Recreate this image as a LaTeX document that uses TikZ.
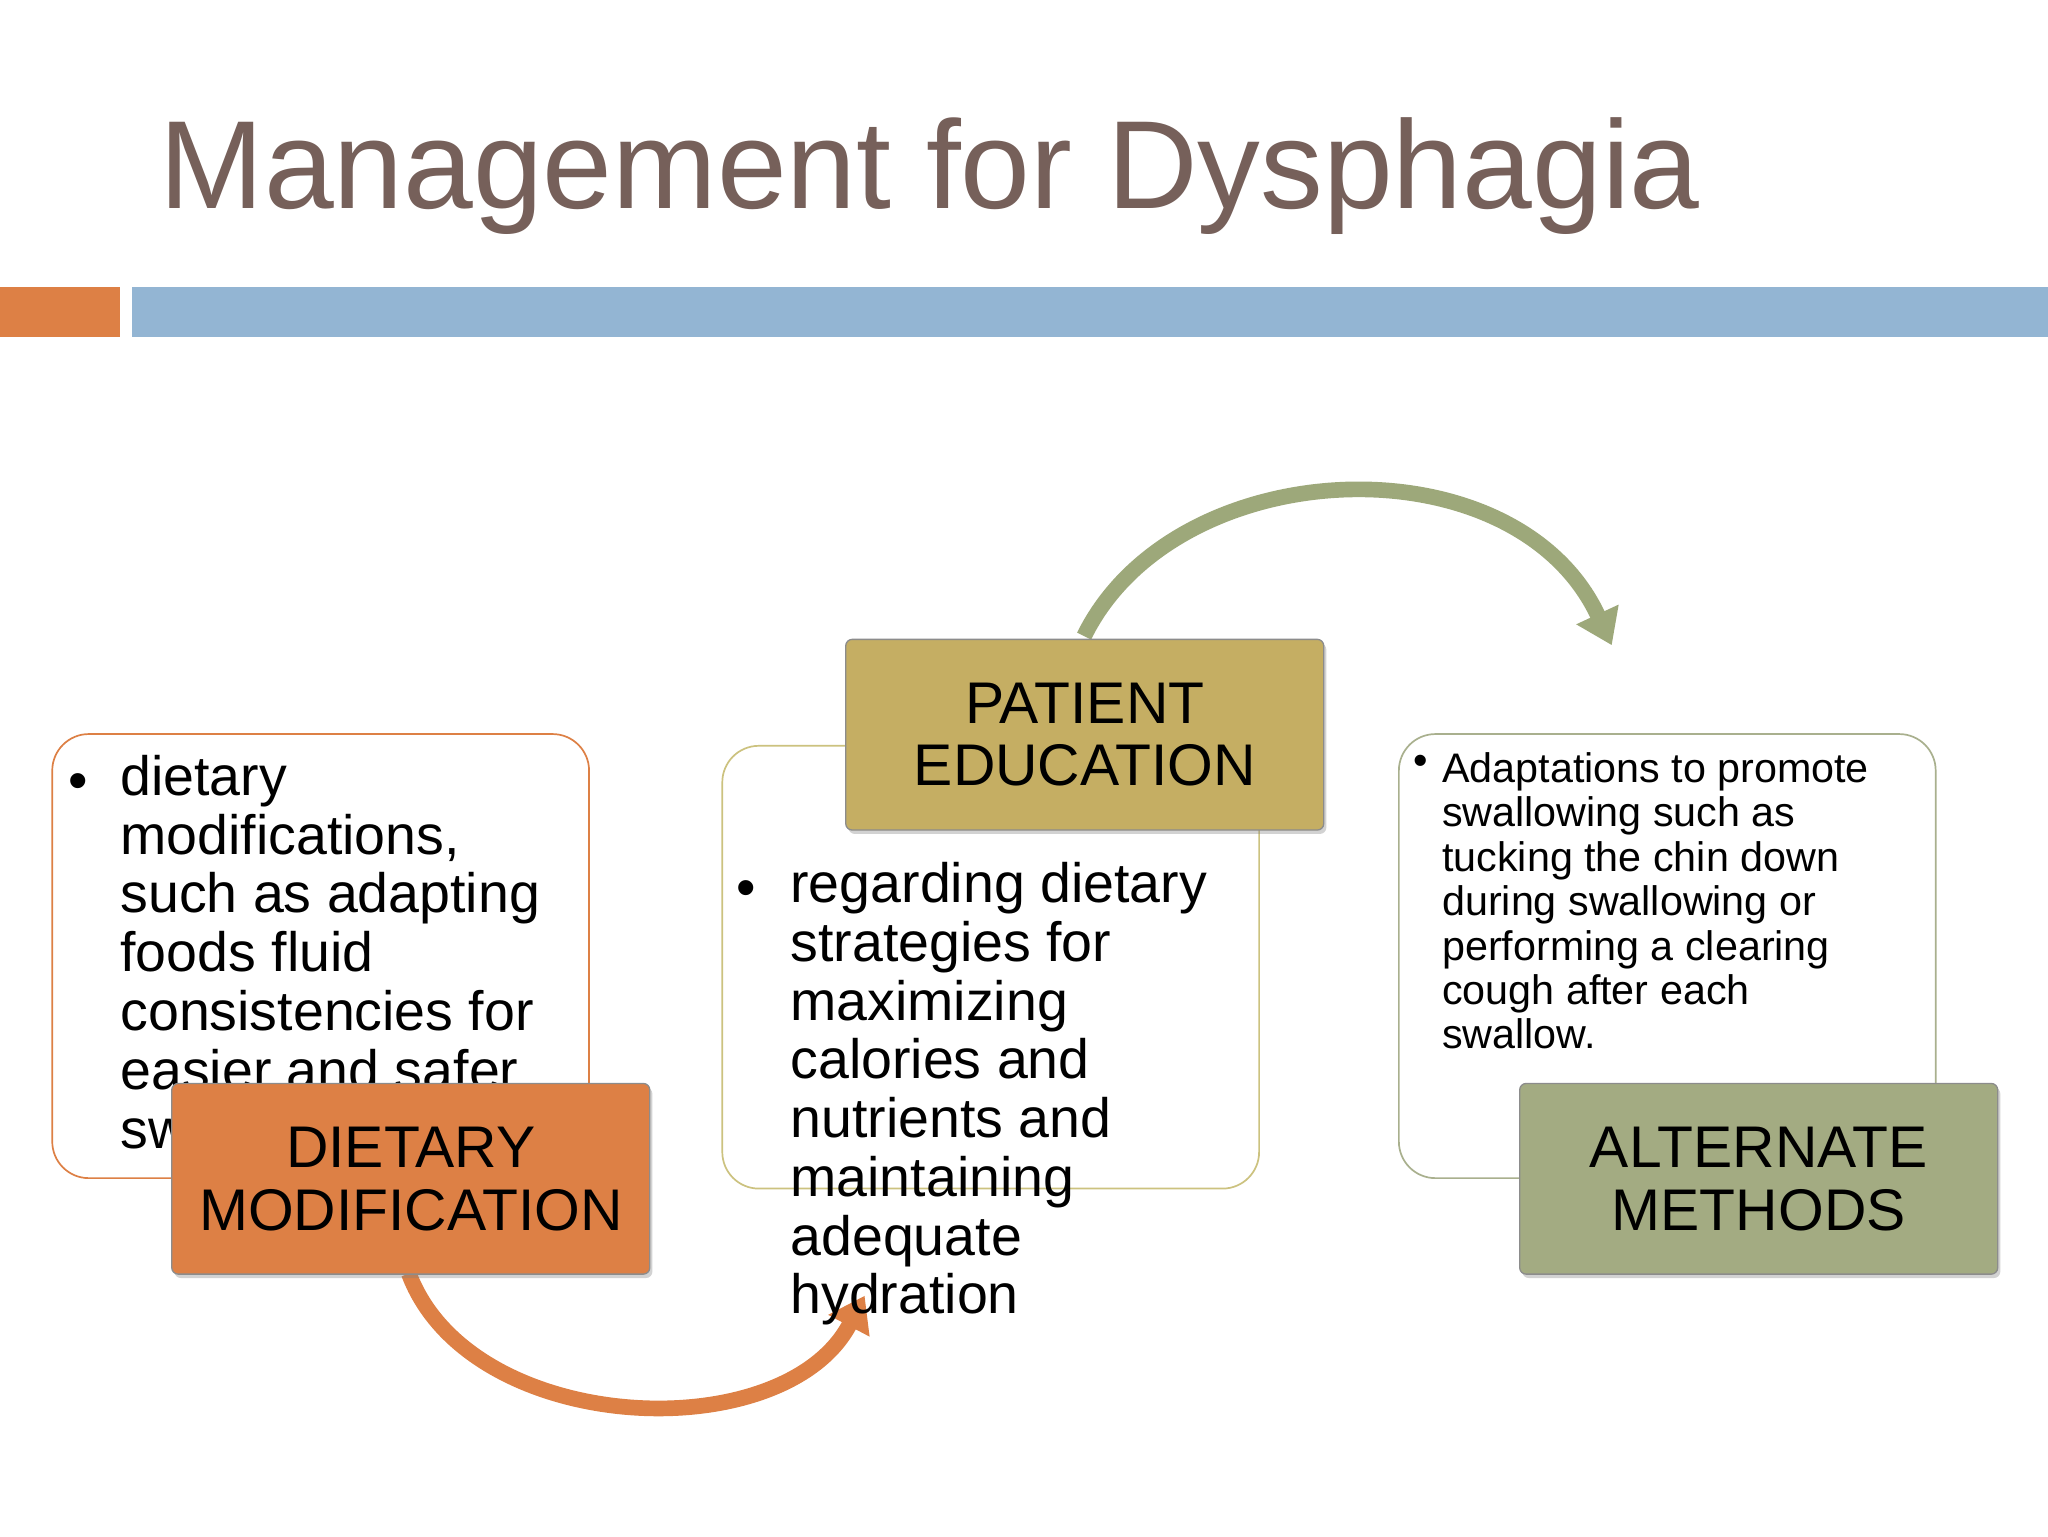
\documentclass[tikz,border=0pt]{standalone}
\usepackage{fontspec}
\setmainfont{Liberation Sans}
\usetikzlibrary{arrows.meta,shadows}
\definecolor{titlec}{HTML}{76605A}
\definecolor{orangec}{HTML}{DD8045}
\definecolor{bluec}{HTML}{93B5D3}
\definecolor{goldc}{HTML}{C5AE63}
\definecolor{goldl}{HTML}{CCC27F}
\definecolor{greenc}{HTML}{A3AB82}
\definecolor{greenl}{HTML}{A9B08E}
\definecolor{arcg}{HTML}{9DA87A}
\tikzset{
 textbox/.style={draw,line width=1.3pt,rounded corners=28pt,fill=white},
 headbox/.style={draw=black!45,line width=1pt,rounded corners=5pt,drop shadow={shadow xshift=2pt,shadow yshift=-3pt,opacity=.35}},
 bodytext/.style={anchor=north west,align=left,inner sep=0pt,font=\fontsize{42.5}{45}\selectfont},
 headtext/.style={align=center,font=\fontsize{45}{48}\selectfont},
 arcline/.style={line width=12pt,-{Triangle[width=34pt,length=26pt]}}
}
\begin{document}
\begin{tikzpicture}[x=1pt,y=-1pt]
\useasboundingbox (0,0) rectangle (1568,1176);
\fill[white] (0,0) rectangle (1568,1176);
\node[anchor=base west,inner sep=0pt,text=titlec,font=\fontsize{96}{100}\selectfont] (title) at (122,160) {Management for Dysphagia};
\fill[orangec] (0,220) rectangle (92,258);
\fill[bluec] (101,220) rectangle (1568,258);
% left
\draw[textbox,draw=orangec] (40,562) rectangle (451,902);
\node[bodytext] (lt) at (92,578) {dietary\\modifications,\\such as adapting\\foods fluid\\consistencies for\\easier and safer\\swallowing};
\node[bodytext] (lb) at (52,592) {•};
% orange arc
\coordinate (oa) at (313,975);
\coordinate (ob) at (662,992);
\draw[arcline,orangec] (oa) .. controls (360,1100) and (600,1110) .. (ob);
\node[headbox,fill=orangec,minimum width=366pt,minimum height=146pt,anchor=north west] (dm) at (131,829) {};
\node[headtext] at (dm) {DIETARY\\MODIFICATION};
% middle
\draw[textbox,draw=goldl] (553,571) rectangle (964,910);
\coordinate (ga) at (830,487);
\coordinate (gb) at (1234,494);
\draw[arcline,arcg] (ga) .. controls (900,345) and (1160,335) .. (gb);
\node[headbox,fill=goldc,minimum width=366pt,minimum height=146pt,anchor=north west] (pe) at (647,489) {};
\node[headtext] at (pe) {PATIENT\\EDUCATION};
\node[bodytext] (mt) at (605,660) {regarding dietary\\strategies for\\maximizing\\calories and\\nutrients and\\maintaining\\adequate\\hydration};
\node[bodytext] (mb) at (564,674) {•};
% right
\draw[textbox,draw=greenl] (1071,562) rectangle (1482,902);
\node[bodytext,font=\fontsize{31.6}{34}\selectfont] (rt) at (1104,576) {Adaptations to promote\\swallowing such as\\tucking the chin down\\during swallowing or\\performing a clearing\\cough after each\\swallow.};
\node[bodytext,font=\fontsize{31.6}{34}\selectfont] (rb) at (1082,578) {•};
\node[headbox,fill=greenc,minimum width=366pt,minimum height=146pt,anchor=north west] (am) at (1163,829) {};
\node[headtext] at (am) {ALTERNATE\\METHODS};
\end{tikzpicture}
\end{document}
